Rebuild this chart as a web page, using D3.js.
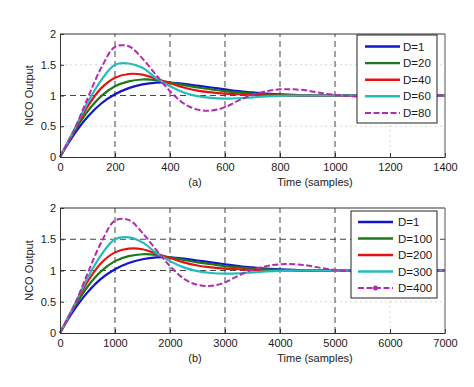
<!DOCTYPE html>
<html>
<head>
<meta charset="utf-8">
<script src="https://cdn.jsdelivr.net/npm/d3@7"></script>
<style>
  body { margin: 0; background: #fff; }
  text { font-family: "Liberation Sans", Arial, sans-serif; fill: #1a1a1a; }
</style>
</head>
<body>
<div id="chart"></div>
<script>

// ---- data ----
var timeA = [0, 50, 100, 150, 200, 250, 300, 350, 400, 450, 500, 550, 600, 650, 700,
             750, 800, 850, 900, 950, 1000, 1050, 1100, 1150, 1200, 1250, 1300, 1350, 1400];
var timeB = [0, 250, 500, 750, 1000, 1250, 1500, 1750, 2000, 2250, 2500, 2750, 3000, 3250, 3500,
             3750, 4000, 4250, 4500, 4750, 5000, 5250, 5500, 5750, 6000, 6250, 6500, 6750, 7000];

var ticksA = [0, 200, 400, 600, 800, 1000, 1200, 1400];
var ticksB = [0, 1000, 2000, 3000, 4000, 5000, 6000, 7000];
var ticksY = [0, 0.5, 1, 1.5, 2];

var labelsA = ["D=1", "D=20", "D=40", "D=60", "D=80"];
var labelsB = ["D=1", "D=100", "D=200", "D=300", "D=400"];

// panel (a)
var a1  = [0, 0.36, 0.65, 0.87, 1.02, 1.12, 1.18, 1.21, 1.21, 1.19, 1.16, 1.13, 1.10, 1.07, 1.05,
           1.03, 1.02, 1.01, 1.0, 1.0, 1.0, 1.0, 1.0, 1.0, 1.0, 1.0, 1.0, 1.0, 1.0];
var a20 = [0, 0.40, 0.74, 0.99, 1.15, 1.23, 1.26, 1.25, 1.21, 1.17, 1.13, 1.10, 1.07, 1.05, 1.03,
           1.02, 1.01, 1.0, 1.0, 1.0, 1.0, 1.0, 1.0, 1.0, 1.0, 1.0, 1.0, 1.0, 1.0];
var a40 = [0, 0.42, 0.82, 1.12, 1.29, 1.35, 1.34, 1.27, 1.20, 1.13, 1.08, 1.05, 1.03, 1.02, 1.01,
           1.0, 1.0, 1.0, 1.0, 1.0, 1.0, 1.0, 1.0, 1.0, 1.0, 1.0, 1.0, 1.0, 1.0];
var a60 = [0, 0.43, 0.88, 1.25, 1.50, 1.52, 1.45, 1.28, 1.15, 1.05, 0.99, 0.96, 0.95, 0.955, 0.97,
           0.985, 0.995, 1.0, 1.0, 1.0, 1.0, 1.0, 1.0, 1.0, 1.0, 1.0, 1.0, 1.0, 1.0];
var a80 = [0, 0.42, 0.95, 1.45, 1.79, 1.80, 1.60, 1.33, 1.07, 0.87, 0.77, 0.755, 0.81, 0.92, 1.01,
           1.07, 1.10, 1.10, 1.08, 1.04, 1.01, 0.99, 0.98, 0.985, 0.99, 1.0, 1.0, 1.0, 1.0];

// panel (b)
var b1   = [0, 0.36, 0.65, 0.87, 1.02, 1.12, 1.18, 1.21, 1.21, 1.19, 1.16, 1.13, 1.10, 1.07, 1.05,
            1.03, 1.02, 1.01, 1.0, 1.0, 1.0, 1.0, 1.0, 1.0, 1.0, 1.0, 1.0, 1.0, 1.0];
var b100 = [0, 0.40, 0.74, 0.99, 1.15, 1.23, 1.26, 1.25, 1.21, 1.17, 1.13, 1.10, 1.07, 1.05, 1.03,
            1.02, 1.01, 1.0, 1.0, 1.0, 1.0, 1.0, 1.0, 1.0, 1.0, 1.0, 1.0, 1.0, 1.0];
var b200 = [0, 0.42, 0.82, 1.12, 1.29, 1.35, 1.34, 1.27, 1.20, 1.13, 1.08, 1.05, 1.03, 1.02, 1.01,
            1.0, 1.0, 1.0, 1.0, 1.0, 1.0, 1.0, 1.0, 1.0, 1.0, 1.0, 1.0, 1.0, 1.0];
var b300 = [0, 0.43, 0.88, 1.25, 1.50, 1.53, 1.45, 1.28, 1.15, 1.05, 0.99, 0.96, 0.95, 0.955, 0.97,
            0.985, 0.995, 1.0, 1.0, 1.0, 1.0, 1.0, 1.0, 1.0, 1.0, 1.0, 1.0, 1.0, 1.0];
var b400 = [0, 0.42, 0.95, 1.45, 1.80, 1.81, 1.60, 1.33, 1.07, 0.87, 0.77, 0.755, 0.81, 0.92, 1.01,
            1.07, 1.10, 1.10, 1.08, 1.04, 1.01, 0.99, 0.98, 0.985, 0.99, 1.0, 1.0, 1.0, 1.0];

var colors = ["#1414c8", "#1a7a1a", "#e41414", "#22bcbc", "#b02cb0"];

var width = 474, height = 387;

var svg = d3.select("#chart").append("svg")
    .attr("width", width)
    .attr("height", height);

/*
 * one panel: box, grid, axes, curves, legend
 */
function drawPanel(opt) {
    var x = d3.scaleLinear().domain([opt.ticks[0], opt.ticks[opt.ticks.length - 1]]).range([60, 445]);
    var y = d3.scaleLinear().domain([0, 2]).range([opt.bottom, opt.top]);

    var g = svg.append("g");

    // grid
    ticksY.slice(1, -1).forEach(function(v) {
        var dark = opt.darkY.indexOf(v) >= 0;
        g.append("line")
            .attr("x1", x.range()[0]).attr("x2", x.range()[1])
            .attr("y1", y(v)).attr("y2", y(v))
            .attr("stroke", dark ? "#444" : "#d8d8d8")
            .attr("stroke-width", 1)
            .attr("stroke-dasharray", dark ? "6,4" : "2,3");
    });
    opt.ticks.slice(1, -1).forEach(function(v, i) {
        var dark = i < 5;
        g.append("line")
            .attr("x1", x(v)).attr("x2", x(v))
            .attr("y1", y.range()[0]).attr("y2", y.range()[1])
            .attr("stroke", dark ? "#444" : "#d8d8d8")
            .attr("stroke-width", 1)
            .attr("stroke-dasharray", dark ? "6,4" : "2,3");
    });

    // curves
    var line = d3.line()
        .curve(d3.curveCatmullRom.alpha(0.5))
        .x(function(d) { return x(d[0]); })
        .y(function(d) { return y(d[1]); });

    opt.series.forEach(function(s, i) {
        var pts = opt.time.map(function(t, k) { return [t, s[k]]; });
        g.append("path")
            .datum(pts)
            .attr("d", line)
            .attr("fill", "none")
            .attr("stroke", colors[i])
            .attr("stroke-width", i == 4 ? 2 : 2.2)
            .attr("stroke-dasharray", i == 4 ? "6,2.5" : null);
    });

    // axes
    var xAxis = d3.axisBottom(x).tickValues(opt.ticks).tickSizeInner(-4).tickSizeOuter(0).tickPadding(6)
        .tickFormat(d3.format("d"));
    var yAxis = d3.axisLeft(y).tickValues(ticksY).tickSizeInner(-4).tickSizeOuter(0).tickPadding(4)
        .tickFormat(function(d) { return d; });

    var xg = g.append("g").attr("transform", "translate(0," + opt.bottom + ")").call(xAxis);
    var yg = g.append("g").attr("transform", "translate(60,0)").call(yAxis);
    [xg, yg].forEach(function(a) {
        a.selectAll("text").style("font-size", "11px").attr("fill", "#1a1a1a");
        a.selectAll("line,path").attr("stroke", "#333");
    });

    g.append("line").attr("x1", 60).attr("x2", 445).attr("y1", opt.top).attr("y2", opt.top)
        .attr("stroke", "#333");
    g.append("line").attr("x1", 445).attr("x2", 445).attr("y1", opt.top).attr("y2", opt.bottom)
        .attr("stroke", "#555");

    // labels
    g.append("text")
        .attr("transform", "translate(33," + (opt.top + opt.bottom) / 2 + ") rotate(-90)")
        .attr("text-anchor", "middle")
        .style("font-size", "11px")
        .text("NCO Output");
    g.append("text")
        .attr("x", 195).attr("y", opt.bottom + 29)
        .attr("text-anchor", "middle")
        .style("font-size", "11px")
        .text(opt.tag);
    g.append("text")
        .attr("x", 315).attr("y", opt.bottom + 29)
        .attr("text-anchor", "middle")
        .style("font-size", "11px")
        .text("Time (samples)");

    // legend
    var L = opt.legend;
    g.append("rect")
        .attr("x", L.x).attr("y", L.y).attr("width", L.w).attr("height", L.h)
        .attr("fill", "#fff").attr("stroke", "#222").attr("stroke-width", 1);

    opt.labels.forEach(function(lab, i) {
        var ly = L.y + L.first + i * L.step;
        g.append("line")
            .attr("x1", L.x + L.l0).attr("x2", L.x + L.l1)
            .attr("y1", ly).attr("y2", ly)
            .attr("stroke", colors[i])
            .attr("stroke-width", i == 4 ? 2 : 2.4)
            .attr("stroke-dasharray", i == 4 ? "6,2.5" : null);
        if (i == 4 && opt.marker) {
            g.append("circle")
                .attr("cx", (2 * L.x + L.l0 + L.l1) / 2).attr("cy", ly).attr("r", 2.5)
                .attr("fill", colors[i]);
        }
        g.append("text")
            .attr("x", L.x + L.t).attr("y", ly + 4)
            .style("font-size", "11.5px")
            .text(lab);
    });
}

drawPanel({
    top: 34, bottom: 157, time: timeA, ticks: ticksA,
    series: [a1, a20, a40, a60, a80], labels: labelsA, tag: "(a)",
    darkY: [1], marker: false,
    legend: {x: 357, y: 35, w: 80, h: 88, first: 11.5, step: 16.6, l0: 8, l1: 43, t: 46}
});

drawPanel({
    top: 208, bottom: 333, time: timeB, ticks: ticksB,
    series: [b1, b100, b200, b300, b400], labels: labelsB, tag: "(b)",
    darkY: [1, 1.5], marker: true,
    legend: {x: 351, y: 211, w: 86, h: 87, first: 11, step: 16.5, l0: 7, l1: 42, t: 47}
});

</script>
</body>
</html>
